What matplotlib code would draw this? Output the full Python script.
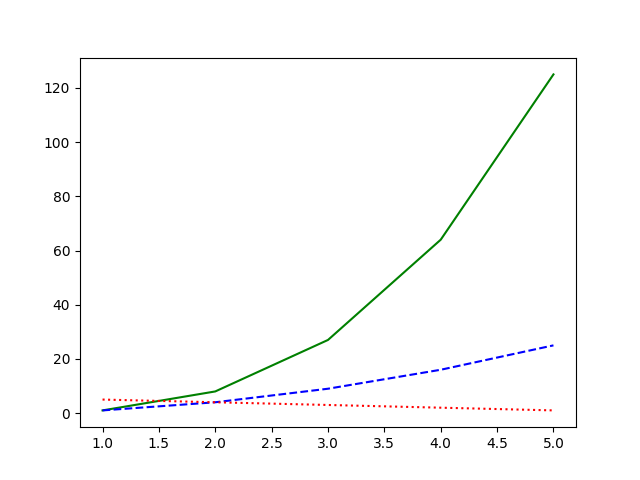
import matplotlib
matplotlib.use("Agg")
import matplotlib.pyplot as plt

x = [1, 2, 3, 4, 5]
cubes = [1, 8, 27, 64, 125]
squares = [1, 4, 9, 16, 25]
falling = [5, 4, 3, 2, 1]

fig, ax = plt.subplots(figsize=(6.4, 4.8), dpi=100)
ax.plot(x, cubes, color="green", linestyle="-")
ax.plot(x, squares, color="blue", linestyle="--")
ax.plot(x, falling, color="red", linestyle=":")
fig.savefig("out.png")
plt.close(fig)
